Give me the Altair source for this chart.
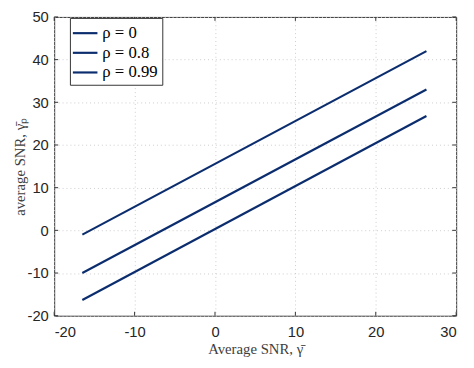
import altair as alt
import pandas as pd

x_vals = [-16.5, 26.3]
rho_0 = [-1.0, 42.0]
rho_08 = [-10.0, 33.0]
rho_099 = [-16.3, 26.8]
series_names = ["ρ = 0", "ρ = 0.8", "ρ = 0.99"]
x_ticks = [-20, -10, 0, 10, 20, 30]
y_ticks = [-20, -10, 0, 10, 20, 30, 40, 50]

rows = []
for name, ys in zip(series_names, [rho_0, rho_08, rho_099]):
    for x, y in zip(x_vals, ys):
        rows.append({"x": x, "y": y, "series": name})
df = pd.DataFrame(rows)
xt = pd.DataFrame({"t": x_ticks})
yt = pd.DataFrame({"t": y_ticks})

navy = "#0b2d6e"
W, H = 409, 304
TL = 4

xscale = alt.Scale(domain=[-20, 30], nice=False)
yscale = alt.Scale(domain=[-20, 50], nice=False)

lines = alt.Chart(df).mark_line(strokeWidth=2.2).encode(
    x=alt.X("x:Q", scale=xscale,
            axis=alt.Axis(values=x_ticks, title="Average SNR, γ̄", grid=True,
                          labelExpr="toString(datum.value)",
                          tickSize=0, labelPadding=9, titleY=33,
                          titleBaseline="middle")),
    y=alt.Y("y:Q", scale=yscale,
            axis=alt.Axis(values=y_ticks, title="average SNR, γ̄ₚ", grid=True,
                          labelExpr="toString(datum.value)",
                          tickSize=0, labelPadding=6, titlePadding=0)),
    color=alt.Color("series:N", sort=series_names,
                    scale=alt.Scale(domain=series_names, range=[navy, navy, navy]),
                    legend=alt.Legend(title=None, orient="none", legendX=16, legendY=1,
                                      symbolType="M-1.25,0L1.25,0", symbolSize=400,
                                      symbolStrokeWidth=2.2,
                                      labelFont="Liberation Serif", labelFontSize=17,
                                      labelColor="#000000",
                                      strokeColor="#333333", fillColor="#ffffff",
                                      padding=4, rowPadding=0, labelOffset=6)),
    detail="series:N",
)

tick_color = "#333333"
bx = alt.Chart(xt).mark_rule(color=tick_color, strokeWidth=1).encode(
    x=alt.X("t:Q", scale=xscale), y=alt.value(H), y2=alt.value(H - TL))
tx = alt.Chart(xt).mark_rule(color=tick_color, strokeWidth=1).encode(
    x=alt.X("t:Q", scale=xscale), y=alt.value(0), y2=alt.value(TL))
ly = alt.Chart(yt).mark_rule(color=tick_color, strokeWidth=1).encode(
    y=alt.Y("t:Q", scale=yscale), x=alt.value(0), x2=alt.value(TL))
ry = alt.Chart(yt).mark_rule(color=tick_color, strokeWidth=1).encode(
    y=alt.Y("t:Q", scale=yscale), x=alt.value(W), x2=alt.value(W - TL))

chart = alt.layer(lines, bx, tx, ly, ry).properties(
    width=W, height=H,
    autosize=alt.AutoSizeParams(type="none"),
    padding={"left": 47, "top": 6, "right": 10, "bottom": 45},
).configure_view(
    stroke="#333333", strokeWidth=1
).configure_axis(
    labelFont="Liberation Sans", labelFontSize=15, labelColor="#262626",
    titleFont="Liberation Serif", titleFontSize=15, titleFontWeight="normal",
    titleColor="#404040",
    gridColor="#cccccc", gridDash=[1, 3], gridWidth=1,
    domain=False,
)

chart.save("out.html", embed_options={"renderer": "svg", "actions": False})
